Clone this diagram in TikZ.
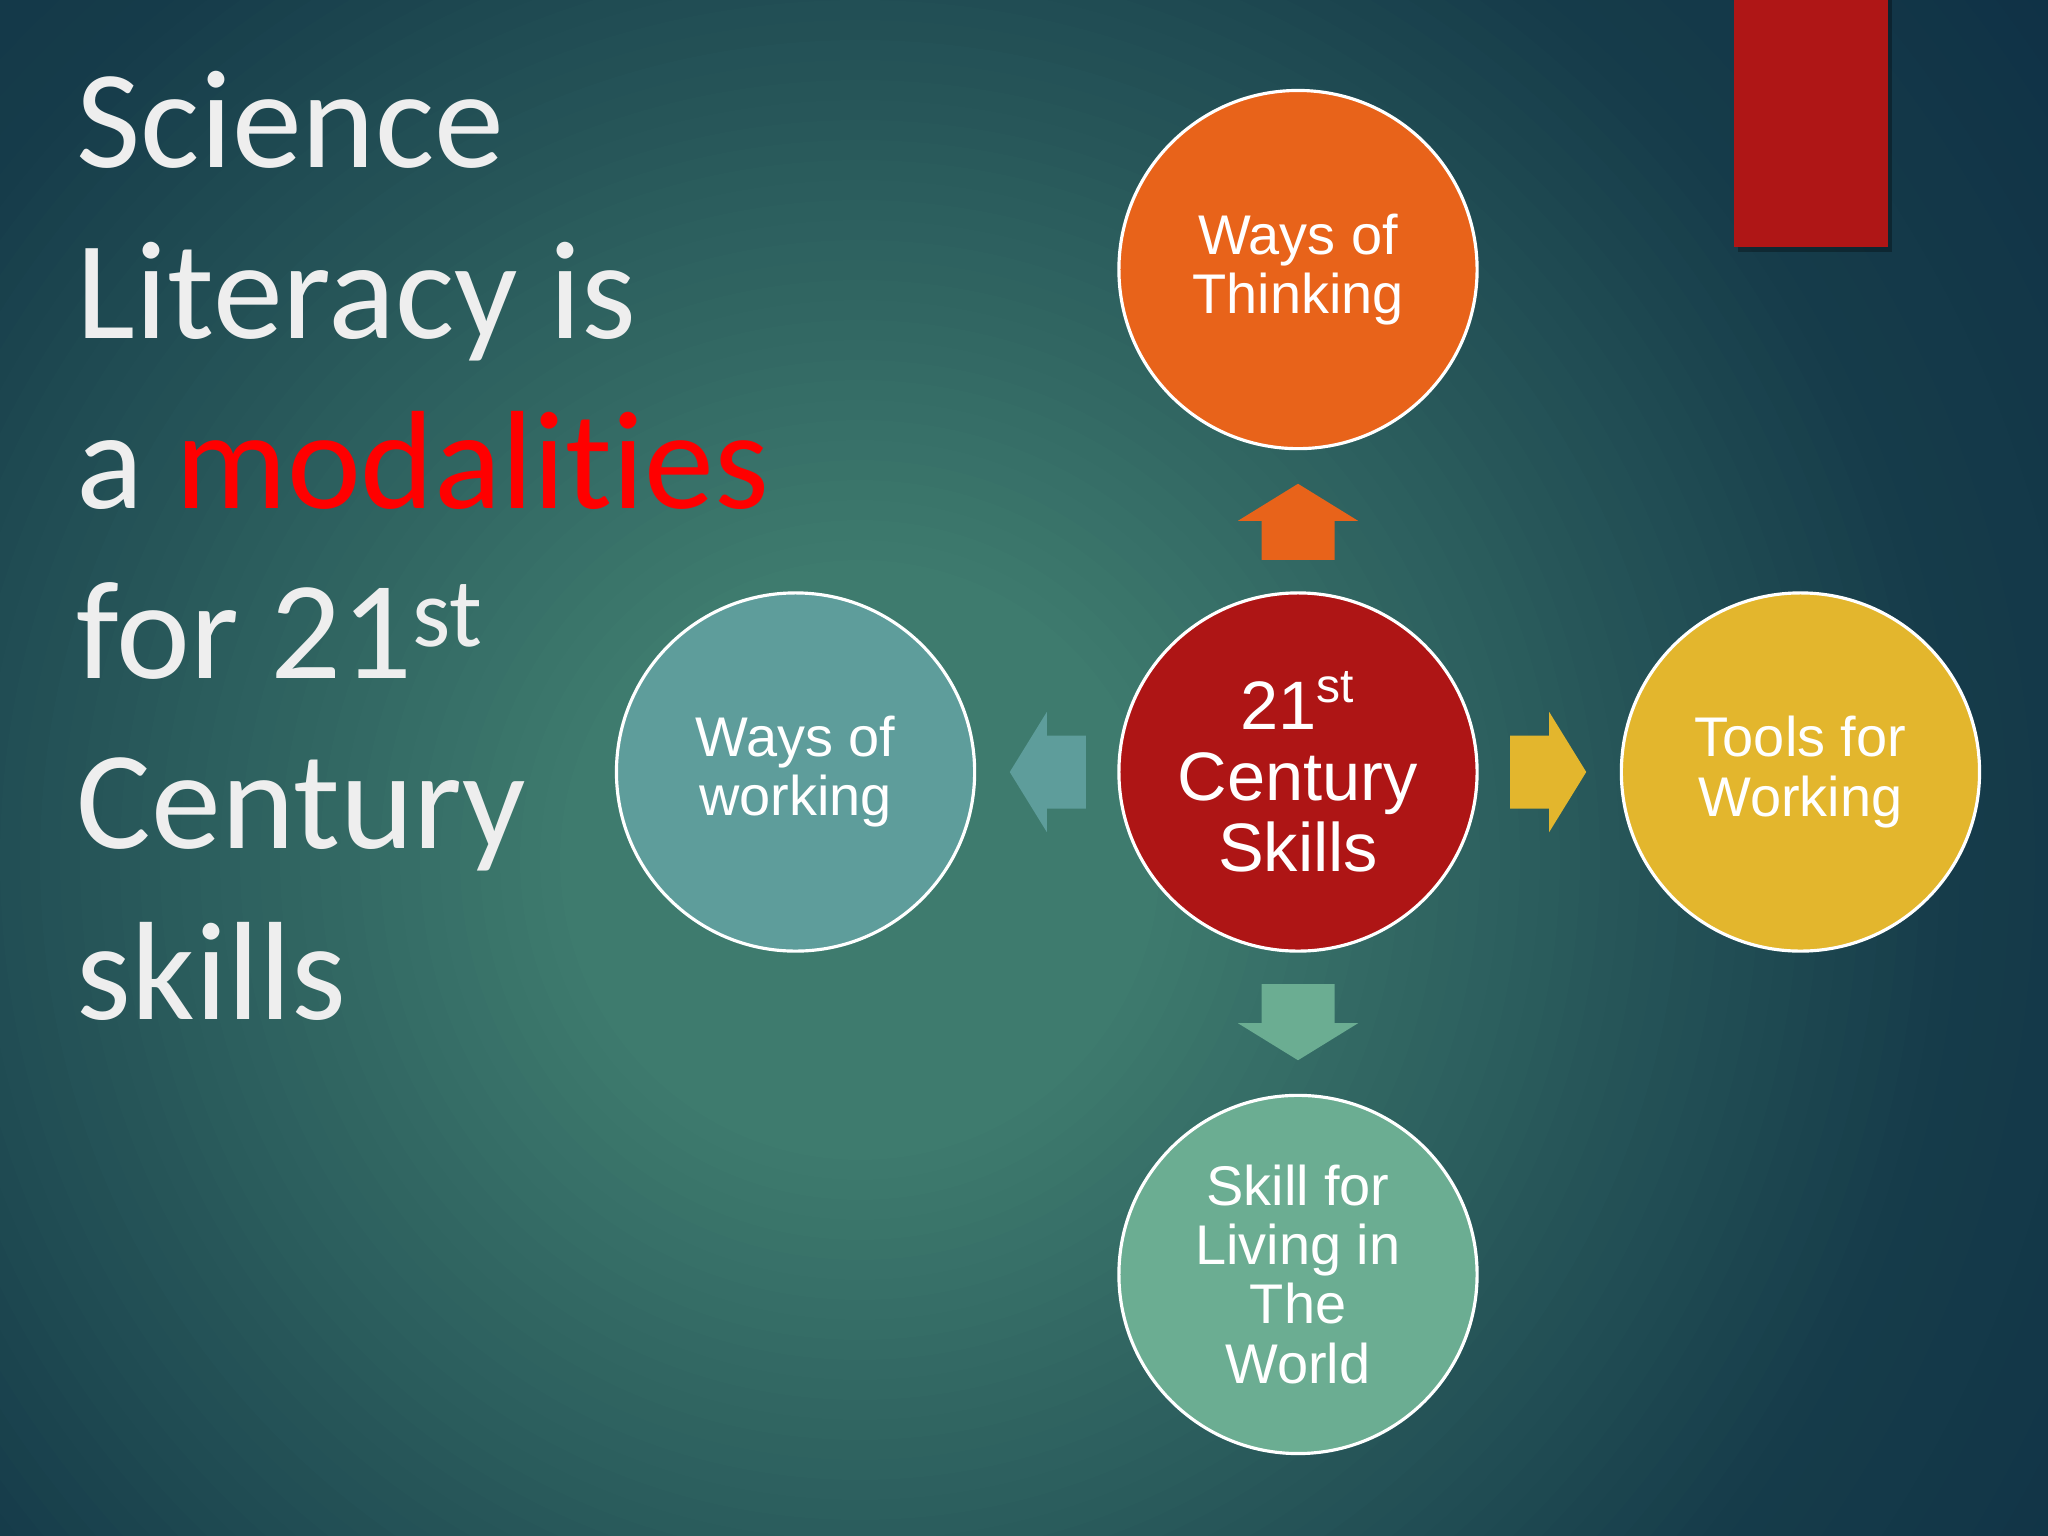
\documentclass[tikz,border=0pt]{standalone}
\usepackage{fontspec}
\setmainfont{Carlito}[Ligatures=NoCommon]
\newfontfamily\arialish{Liberation Sans}
\usetikzlibrary{positioning, calc}

\definecolor{bginner}{HTML}{3E7B6E}
\definecolor{bgouter}{HTML}{163C4A}
\definecolor{bgedge}{HTML}{0F3146}
\definecolor{titlegrey}{HTML}{EEEEEE}
\definecolor{modalred}{HTML}{FF0000}
\definecolor{barred}{HTML}{AF1616}
\definecolor{corered}{HTML}{AE1515}
\definecolor{thinkorange}{HTML}{E8631A}
\definecolor{toolsyellow}{HTML}{E3B62D}
\definecolor{workteal}{HTML}{5E9D9B}
\definecolor{livinggreen}{HTML}{6BAD92}

\begin{document}
\begin{tikzpicture}[x=0.01cm, y=-0.01cm,
        skill/.style={circle, draw=white, line width=0.9pt, minimum size=3.58cm, inner sep=0pt, align=center, text=white, font=\arialish\fontsize{15.9pt}{16.8pt}\selectfont},
        node distance=1.41cm,
        blockarrow/.pic={\fill (-39,-36.5) -- (0,-36.5) -- (0,-60) -- (37,0) -- (0,60) -- (0,36.5) -- (-39,36.5) -- cycle;}]
    \useasboundingbox (0,0) rectangle (2048,1536);
    % background glow, drawn as rings from the outside in
    \coordinate (glowcentre) at (860,860);
    \begin{scope}
        \clip (0,0) rectangle (2048,1536);
        \foreach \r in {1500,1475,...,1100} {
            \pgfmathtruncatemacro\pct{(1500-\r)/4}
            \fill[bgouter!\pct!bgedge] (glowcentre) circle (\r);
        }
        \foreach \r in {1080,1060,...,300} {
            \pgfmathtruncatemacro\pct{(1100-\r)/8}
            \fill[bginner!\pct!bgouter] (glowcentre) circle (\r);
        }
    \end{scope}
    \fill[black, opacity=0.3] (1738,0) rectangle (1892,252);
    \fill[barred] (1734,0) rectangle (1888,247);

    \node[anchor=base west, align=left, inner sep=0pt, text=titlegrey, font=\fontsize{39.8pt}{48.4pt}\selectfont] (headline) at (76,1019) {Science\\Literacy is\\a \textcolor{modalred}{modalities}\\for 21\textsuperscript{st}\\Century\\skills};

    \node[skill, fill=corered, font=\arialish\fontsize{19.5pt}{20.2pt}\selectfont] at (1298,772) (core) {21\textsuperscript{st}\\Century\\Skills};
    \node[skill, fill=thinkorange, above=of core] (think) {Ways of\\Thinking};
    \node[skill, fill=livinggreen, below=of core] (living) {Skill for\\Living in\\The\\World};
    \node[skill, fill=workteal, left=of core] (work) {Ways of\\working};
    \node[skill, fill=toolsyellow, right=of core] (tools) {Tools for\\Working};

    \pic[fill=thinkorange, rotate=90] at ($(core.north)!0.5!(think.south)$) {blockarrow};
    \pic[fill=livinggreen, rotate=-90] at ($(core.south)!0.5!(living.north)$) {blockarrow};
    \pic[fill=workteal, rotate=180] at ($(core.west)!0.5!(work.east)$) {blockarrow};
    \pic[fill=toolsyellow] at ($(core.east)!0.5!(tools.west)$) {blockarrow};
\end{tikzpicture}
\end{document}
